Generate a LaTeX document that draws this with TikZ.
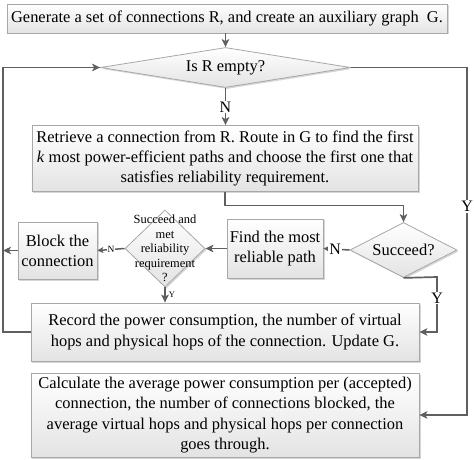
\documentclass[tikz,border=0pt]{standalone}
\usepackage{fontspec}
\setmainfont{Liberation Serif}
\usetikzlibrary{arrows.meta,shapes.geometric,shadows}
\definecolor{linegray}{HTML}{5F5F5F}
\definecolor{boxborder}{HTML}{A8A8A8}
\begin{document}
\begin{tikzpicture}[x=1bp,y=-1bp,
  box/.style={rectangle, draw=boxborder, line width=0.8bp, top color=white, bottom color=black!11,
    drop shadow={shadow xshift=1.5bp, shadow yshift=-1.5bp, fill=black!35, opacity=0.45},
    align=center, font=\fontsize{16.5}{20.3}\selectfont, inner sep=0pt},
  dia/.style={diamond, draw=boxborder, line width=0.8bp, top color=white, bottom color=black!11,
    drop shadow={shadow xshift=1.5bp, shadow yshift=-1.5bp, fill=black!35, opacity=0.45},
    align=center, font=\fontsize{16.5}{18}\selectfont, inner sep=0pt},
  conn/.style={draw=linegray, line width=1.7bp, -{Stealth[length=8bp,width=7.5bp,inset=2bp]}},
  connsmall/.style={draw=linegray, line width=1.5bp, -{Stealth[length=6bp,width=6bp,inset=1.5bp]}},
  lbl/.style={fill=white, inner sep=1bp, font=\fontsize{16}{16}\selectfont},
  lblsmall/.style={fill=white, inner sep=0.8bp, font=\fontsize{9.5}{9.5}\selectfont}
]
\useasboundingbox (0,0) rectangle (474,460);
\fill[white] (0,0) rectangle (474,460);

\coordinate (leftx) at (3,67.5);
\coordinate (rightx) at (467,67.5);
\coordinate (ry) at (437,277);

\node[box, minimum width=440bp, minimum height=29bp] (gen) at (227,18.5)
  {Generate a set of connections R, and create an auxiliary graph~ G.};
\node[dia, minimum width=250bp, minimum height=40bp, shape aspect=6] (isR) at (225.5,67.5) {Is R empty?};
\node[box, minimum width=386bp, minimum height=66bp] (ret) at (225,158.5)
  {Retrieve a connection from R. Route in G to find the first\\
   \textit{k} most power-efficient paths and choose the first one that\\
   satisfies reliability requirement.};
\node[dia, minimum width=107bp, minimum height=55bp, shape aspect=2] (succ) at (403.5,250) {Succeed?};
\node[box, minimum width=96bp, minimum height=59bp] (find) at (275,248.5) {Find the most\\reliable path};
\node[dia, minimum width=80bp, minimum height=77bp] (d2) at (165,248.5) {};
\node[font=\fontsize{12.5}{14.5}\selectfont, align=center, inner sep=0pt] (d2t) at (d2.center)
  {Succeed and\\met\\reliability\\requirement\\?};
\node[box, minimum width=79bp, minimum height=57bp] (block) at (57.5,250.5) {Block the\\connection};
\node[box, minimum width=388bp, minimum height=58bp] (rec) at (225,332)
  {Record the power consumption, the number of virtual\\
   hops and physical hops of the connection. Update G.};
\node[box, minimum width=388bp, minimum height=84bp] (calc) at (225,415)
  {Calculate the average power consumption per (accepted)\\
   connection, the number of connections blocked, the\\
   average virtual hops and physical hops per connection\\
   goes through.};

\draw[conn] (isR.north |- gen.south) -- (isR.north);
\draw[conn] (isR.south) -- node[lbl, pos=0.52]{N} (isR.south |- ret.north);
\draw[conn] (ret.south) -- ++(0,13.5) -| (succ.north);
\draw[connsmall] (succ.west) -- node[lbl, pos=0.55]{N} (find.east);
\draw[conn] (find.west) -- (d2.east);
\draw[connsmall] (d2.west) -- node[lblsmall, pos=0.5]{N} (block.east);
\draw[conn] (block.west) -- (block.west -| leftx);
\draw[conn] (d2.south) -- node[right, font=\fontsize{8.5}{8.5}\selectfont, inner sep=3bp]{Y} (d2.south |- rec.north);
\draw[conn] (succ.south) -- (ry) -- node[lbl, pos=0.38]{Y} (ry |- rec.east) -- (rec.east);
\draw[conn] (rec.west) -- (rec.west -| leftx) -- (leftx) -- (isR.west);
\draw[conn] (isR.east) -- (rightx) -- node[lbl, pos=0.40]{Y} (rightx |- calc.east) -- (calc.east);
\end{tikzpicture}
\end{document}
